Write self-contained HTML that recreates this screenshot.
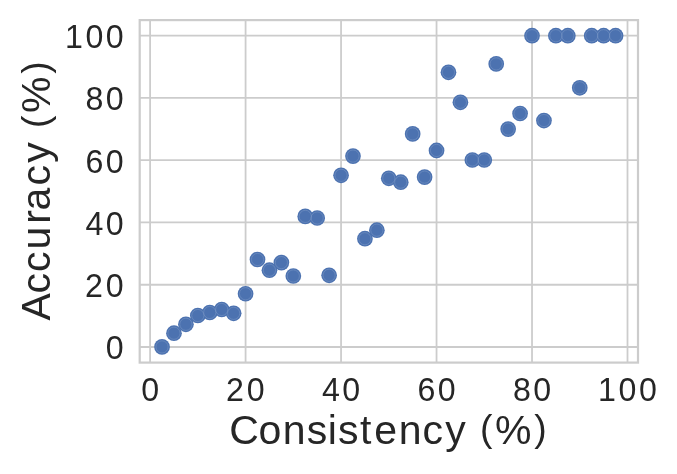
<!DOCTYPE html>
<html lang="en">
<head>
<meta charset="utf-8">
<title>Accuracy vs Consistency</title>
<style>
html,body{margin:0;padding:0;background:#ffffff;}
body{width:677px;height:474px;overflow:hidden;font-family:"Liberation Sans",sans-serif;}
svg{display:block;will-change:transform;}
svg text{font-family:"Liberation Sans",sans-serif;fill:#262626;}
</style>
</head>
<body>
<svg width="677" height="474" viewBox="0 0 677 474">
<rect x="0" y="0" width="677" height="474" fill="#ffffff"/>
<!-- grid -->
<g stroke="#cccccc" stroke-width="1.78" fill="none">
<line x1="150.10" y1="20.10" x2="150.10" y2="362.60"/>
<line x1="245.58" y1="20.10" x2="245.58" y2="362.60"/>
<line x1="341.06" y1="20.10" x2="341.06" y2="362.60"/>
<line x1="436.54" y1="20.10" x2="436.54" y2="362.60"/>
<line x1="532.02" y1="20.10" x2="532.02" y2="362.60"/>
<line x1="627.50" y1="20.10" x2="627.50" y2="362.60"/>
<line x1="139.70" y1="347.00" x2="638.00" y2="347.00"/>
<line x1="139.70" y1="284.74" x2="638.00" y2="284.74"/>
<line x1="139.70" y1="222.48" x2="638.00" y2="222.48"/>
<line x1="139.70" y1="160.22" x2="638.00" y2="160.22"/>
<line x1="139.70" y1="97.96" x2="638.00" y2="97.96"/>
<line x1="139.70" y1="35.70" x2="638.00" y2="35.70"/>
</g>
<!-- data points -->
<g fill="#4c72b0">
<circle cx="162.03" cy="346.90" r="7.85"/>
<circle cx="173.97" cy="333.20" r="7.85"/>
<circle cx="185.91" cy="324.30" r="7.85"/>
<circle cx="197.84" cy="315.50" r="7.85"/>
<circle cx="209.77" cy="312.50" r="7.85"/>
<circle cx="221.71" cy="309.50" r="7.85"/>
<circle cx="233.64" cy="313.30" r="7.85"/>
<circle cx="245.58" cy="293.75" r="7.85"/>
<circle cx="257.51" cy="259.50" r="7.85"/>
<circle cx="269.45" cy="270.20" r="7.85"/>
<circle cx="281.38" cy="262.60" r="7.85"/>
<circle cx="293.32" cy="276.00" r="7.85"/>
<circle cx="305.25" cy="216.40" r="7.85"/>
<circle cx="317.19" cy="218.00" r="7.85"/>
<circle cx="329.12" cy="275.30" r="7.85"/>
<circle cx="341.06" cy="175.30" r="7.85"/>
<circle cx="353.00" cy="156.10" r="7.85"/>
<circle cx="364.93" cy="238.70" r="7.85"/>
<circle cx="376.87" cy="230.20" r="7.85"/>
<circle cx="388.80" cy="178.30" r="7.85"/>
<circle cx="400.74" cy="182.20" r="7.85"/>
<circle cx="412.67" cy="133.90" r="7.85"/>
<circle cx="424.61" cy="177.10" r="7.85"/>
<circle cx="436.54" cy="150.45" r="7.85"/>
<circle cx="448.48" cy="72.30" r="7.85"/>
<circle cx="460.41" cy="102.30" r="7.85"/>
<circle cx="472.35" cy="160.00" r="7.85"/>
<circle cx="484.28" cy="160.00" r="7.85"/>
<circle cx="496.22" cy="63.90" r="7.85"/>
<circle cx="508.15" cy="129.10" r="7.85"/>
<circle cx="520.09" cy="113.50" r="7.85"/>
<circle cx="532.02" cy="35.70" r="7.85"/>
<circle cx="543.96" cy="120.55" r="7.85"/>
<circle cx="555.89" cy="35.70" r="7.85"/>
<circle cx="567.83" cy="35.70" r="7.85"/>
<circle cx="579.76" cy="87.80" r="7.85"/>
<circle cx="591.70" cy="35.70" r="7.85"/>
<circle cx="603.63" cy="35.70" r="7.85"/>
<circle cx="615.56" cy="35.70" r="7.85"/>
</g>
<g fill="none" stroke="#8fa8d0" stroke-width="0.6" stroke-opacity="0.6">
<circle cx="162.03" cy="346.90" r="6.1"/>
<circle cx="173.97" cy="333.20" r="6.1"/>
<circle cx="185.91" cy="324.30" r="6.1"/>
<circle cx="197.84" cy="315.50" r="6.1"/>
<circle cx="209.77" cy="312.50" r="6.1"/>
<circle cx="221.71" cy="309.50" r="6.1"/>
<circle cx="233.64" cy="313.30" r="6.1"/>
<circle cx="245.58" cy="293.75" r="6.1"/>
<circle cx="257.51" cy="259.50" r="6.1"/>
<circle cx="269.45" cy="270.20" r="6.1"/>
<circle cx="281.38" cy="262.60" r="6.1"/>
<circle cx="293.32" cy="276.00" r="6.1"/>
<circle cx="305.25" cy="216.40" r="6.1"/>
<circle cx="317.19" cy="218.00" r="6.1"/>
<circle cx="329.12" cy="275.30" r="6.1"/>
<circle cx="341.06" cy="175.30" r="6.1"/>
<circle cx="353.00" cy="156.10" r="6.1"/>
<circle cx="364.93" cy="238.70" r="6.1"/>
<circle cx="376.87" cy="230.20" r="6.1"/>
<circle cx="388.80" cy="178.30" r="6.1"/>
<circle cx="400.74" cy="182.20" r="6.1"/>
<circle cx="412.67" cy="133.90" r="6.1"/>
<circle cx="424.61" cy="177.10" r="6.1"/>
<circle cx="436.54" cy="150.45" r="6.1"/>
<circle cx="448.48" cy="72.30" r="6.1"/>
<circle cx="460.41" cy="102.30" r="6.1"/>
<circle cx="472.35" cy="160.00" r="6.1"/>
<circle cx="484.28" cy="160.00" r="6.1"/>
<circle cx="496.22" cy="63.90" r="6.1"/>
<circle cx="508.15" cy="129.10" r="6.1"/>
<circle cx="520.09" cy="113.50" r="6.1"/>
<circle cx="532.02" cy="35.70" r="6.1"/>
<circle cx="543.96" cy="120.55" r="6.1"/>
<circle cx="555.89" cy="35.70" r="6.1"/>
<circle cx="567.83" cy="35.70" r="6.1"/>
<circle cx="579.76" cy="87.80" r="6.1"/>
<circle cx="591.70" cy="35.70" r="6.1"/>
<circle cx="603.63" cy="35.70" r="6.1"/>
<circle cx="615.56" cy="35.70" r="6.1"/>
</g>
<!-- axes frame -->
<rect x="139.70" y="20.10" width="498.30" height="342.50" fill="none" stroke="#cccccc" stroke-width="2.22"/>
<!-- y tick labels -->
<g font-size="33.5">
<text transform="translate(63.82 48.10) scale(0.960 1)" x="1.12 22.49 43.70" y="0">100</text>
<text transform="translate(84.18 110.36) scale(0.960 1)" x="1.28 22.49" y="0">80</text>
<text transform="translate(84.18 172.62) scale(0.960 1)" x="1.29 22.49" y="0">60</text>
<text transform="translate(84.18 234.88) scale(0.960 1)" x="1.27 22.49" y="0">40</text>
<text transform="translate(84.18 297.14) scale(0.960 1)" x="0.84 22.49" y="0">20</text>
<text transform="translate(104.54 359.40) scale(0.960 1)" x="1.28" y="0">0</text>
</g>
<!-- x tick labels -->
<g font-size="33.5">
<text transform="translate(139.92 400.60) scale(0.960 1)" x="1.28" y="0">0</text>
<text transform="translate(225.22 400.60) scale(0.960 1)" x="0.84 22.49" y="0">20</text>
<text transform="translate(320.70 400.60) scale(0.960 1)" x="1.27 22.49" y="0">40</text>
<text transform="translate(416.18 400.60) scale(0.960 1)" x="1.29 22.49" y="0">60</text>
<text transform="translate(511.66 400.60) scale(0.960 1)" x="1.28 22.49" y="0">80</text>
<text transform="translate(596.96 400.60) scale(0.960 1)" x="1.12 22.49 43.70" y="0">100</text>
</g>
<!-- axis labels -->
<text font-size="41.0" transform="translate(230.56 443.50)" x="-1.37 27.88 52.31 76.24 97.30 107.48 129.51 143.68 168.12 191.86 214.64 236.47 249.37 264.52 303.67" y="0">Consistency <tspan font-size="37.39" y="-2.58">(</tspan><tspan y="0">%</tspan><tspan font-size="37.39" y="-2.58">)</tspan></text>
<text font-size="41.0" transform="translate(50.20 320.20) rotate(-90)" x="-0.31 26.79 48.29 70.67 96.52 109.74 134.63 157.41 179.24 192.14 207.28 246.43" y="0">Accuracy <tspan font-size="37.39" y="-2.58">(</tspan><tspan y="0">%</tspan><tspan font-size="37.39" y="-2.58">)</tspan></text>
</svg>
</body>
</html>
